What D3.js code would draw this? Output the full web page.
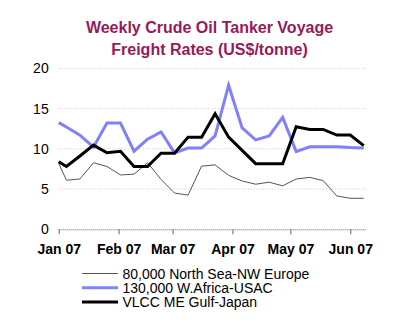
<!DOCTYPE html>
<html>
<head>
<meta charset="utf-8">
<script src="https://cdn.jsdelivr.net/npm/d3@7"></script>
<style>
  html, body { margin: 0; padding: 0; background: #fff; }
  svg { display: block; font-family: "Liberation Sans", Arial, sans-serif; }
</style>
</head>
<body>
<svg id="chart" width="400" height="328"></svg>
<script>
// Weekly voyage freight rates, US$/tonne
const dates = [
  "2007-01-01", "2007-01-05", "2007-01-12", "2007-01-19", "2007-01-26",
  "2007-02-02", "2007-02-09", "2007-02-16", "2007-02-23",
  "2007-03-02", "2007-03-09", "2007-03-16", "2007-03-23", "2007-03-30",
  "2007-04-06", "2007-04-13", "2007-04-20", "2007-04-27",
  "2007-05-04", "2007-05-11", "2007-05-18", "2007-05-25",
  "2007-06-01", "2007-06-08"
];
const northSea = [8.2, 6.1, 6.25, 8.27, 7.8, 6.75, 6.85, 8.27, 6.2, 4.5, 4.25, 7.85,
                  8.0, 6.7, 6.0, 5.6, 5.85, 5.4, 6.25, 6.45, 6.05, 4.15, 3.85, 3.85];
const wAfrica = [13.25, 12.7, 11.7, 10.2, 13.2, 13.2, 9.7, 11.2, 12.1, 9.5, 10.1, 10.1,
                 11.6, 17.9, 12.6, 11.1, 11.6, 13.9, 9.65, 10.25, 10.25, 10.25, 10.15, 10.1];
const vlcc = [8.4, 7.8, 9.1, 10.45, 9.5, 9.7, 7.8, 7.8, 9.45, 9.45, 11.45, 11.45,
              14.35, 11.45, 9.8, 8.15, 8.15, 8.15, 12.75, 12.4, 12.4, 11.7, 11.7, 10.4];
const seriesNames = ["80,000 North Sea-NW Europe", "130,000 W.Africa-USAC", "VLCC ME Gulf-Japan"];
const yTicks = [0, 5, 10, 15, 20];
const monthTicks = ["2007-01-01", "2007-02-01", "2007-03-01", "2007-04-01", "2007-05-01", "2007-06-01"];
const titleLines = ["Weekly Crude Oil Tanker Voyage", "Freight Rates (US$/tonne)"];

const parse = d3.utcParse("%Y-%m-%d");
const dateObjs = dates.map(parse);

const series = [
  { name: seriesNames[0], values: northSea, color: "#555555", width: 1 },
  { name: seriesNames[1], values: wAfrica, color: "#8080ff", width: 3 },
  { name: seriesNames[2], values: vlcc, color: "#000000", width: 3 }
];

const svg = d3.select("#chart");
const plotL = 58.7, plotR = 365.7, plotT = 68.3, plotB = 229.3;

const x = d3.scaleUtc()
  .domain([parse("2007-01-01"), parse("2007-06-09")])
  .range([plotL, plotR]);
const y = d3.scaleLinear().domain([0, 20]).range([plotB, plotT]);

// Title
const title = svg.append("text")
  .attr("x", 209.5)
  .attr("text-anchor", "middle")
  .attr("fill", "#961a5a")
  .attr("font-weight", "bold")
  .attr("font-size", 16);
title.selectAll("tspan").data(titleLines).join("tspan")
  .attr("x", 209.5)
  .attr("y", (d, i) => 33.3 + i * 21.7)
  .text(d => d);

// Horizontal gridlines
svg.append("g")
  .selectAll("line")
  .data(yTicks.filter(t => t > 0))
  .join("line")
  .attr("x1", plotL).attr("x2", plotR)
  .attr("y1", d => y(d)).attr("y2", d => y(d))
  .attr("stroke", "#c9c99c")
  .attr("stroke-width", 1)
  .attr("stroke-dasharray", "1,2");

// Y axis labels (no axis line)
const yAxis = svg.append("g")
  .attr("transform", `translate(${plotL},0)`)
  .call(d3.axisLeft(y).tickValues(yTicks).tickSize(0).tickPadding(10).tickFormat(d3.format("d")));
yAxis.select(".domain").remove();
yAxis.selectAll("text")
  .attr("font-family", "Liberation Sans, Arial, sans-serif")
  .attr("font-size", 14)
  .attr("fill", "#000");

// X axis
const xAxis = svg.append("g")
  .attr("transform", `translate(0,${plotB})`)
  .call(d3.axisBottom(x)
    .tickValues(monthTicks.map(parse))
    .tickSize(5)
    .tickPadding(10)
    .tickFormat(d3.utcFormat("%b %y")));
xAxis.select(".domain")
  .attr("d", `M${plotL},0.5H${plotR}`)
  .attr("stroke", "#666")
  .attr("stroke-dasharray", "1,1");
xAxis.selectAll(".tick line").attr("stroke", "#666");
xAxis.selectAll("text")
  .attr("font-family", "Liberation Sans, Arial, sans-serif")
  .attr("font-size", 14)
  .attr("font-weight", "bold")
  .attr("fill", "#000");

// Series lines
const line = d3.line()
  .x((d, i) => x(dateObjs[i]))
  .y(d => y(d));

svg.append("g")
  .selectAll("path")
  .data(series)
  .join("path")
  .attr("d", s => line(s.values))
  .attr("fill", "none")
  .attr("stroke", s => s.color)
  .attr("stroke-width", s => s.width)
  .attr("stroke-linejoin", "miter");

// Legend
const legend = svg.append("g");
const rows = legend.selectAll("g")
  .data(series)
  .join("g")
  .attr("transform", (d, i) => `translate(0,${273.5 + i * 14.2})`);
rows.append("line")
  .attr("x1", 82).attr("x2", 118)
  .attr("y1", 0).attr("y2", 0)
  .attr("stroke", d => d.color)
  .attr("stroke-width", d => d.width);
rows.append("text")
  .attr("x", 122.5)
  .attr("y", 5)
  .attr("font-size", 14)
  .attr("fill", "#000")
  .text(d => d.name);
</script>
</body>
</html>
